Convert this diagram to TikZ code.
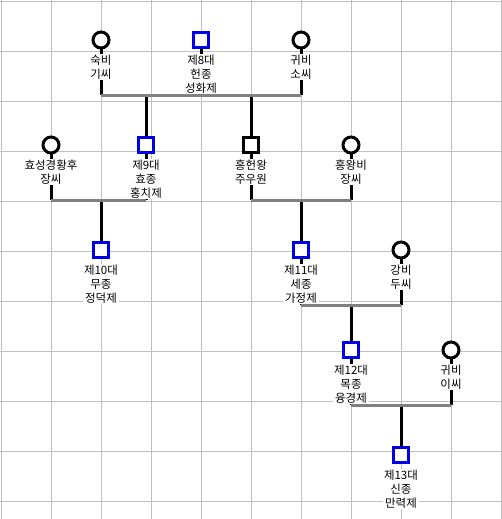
\documentclass[tikz,border=0pt]{standalone}
\usepackage{fontspec}
\newfontfamily\kr{Noto Sans CJK KR}
\definecolor{gridgray}{RGB}{192,192,192}
\definecolor{marrgray}{RGB}{128,128,128}
\definecolor{kingblue}{RGB}{0,0,230}
\tikzset{
  gridline/.style={draw=gridgray, line width=0.75pt},
  female/.style={circle, draw=black, fill=white, line width=2.25pt, minimum size=12pt, inner sep=0pt},
  king/.style={rectangle, draw=kingblue, fill=white, line width=2.25pt, minimum size=11.25pt, inner sep=0pt},
  male/.style={rectangle, draw=black, fill=white, line width=2.25pt, minimum size=11.25pt, inner sep=0pt},
  lbl/.style={anchor=north, fill=white, inner sep=0.5pt, align=center, font=\kr\fontsize{8.6pt}{10.6pt}\selectfont},
  pline/.style={draw=black, line width=2.25pt},
  mline/.style={draw=marrgray, line width=2.25pt},
}
\begin{document}
\begin{tikzpicture}[x=0.75pt, y=-0.75pt]
\useasboundingbox (0,0) rectangle (502,519);
% grid
\foreach \k in {0,...,10} {
  \draw[gridline] (1+50*\k,0) -- (1+50*\k,519);
  \draw[gridline] (0,1+50*\k) -- (502,1+50*\k);
}
% person positions
\path
  (101,40) coordinate (sukbi)
  (201,40) coordinate (heonjong)
  (301,40) coordinate (gwibiso)
  (51,145) coordinate (hyoseong)
  (146,145) coordinate (hyojong)
  (251,145) coordinate (heungheon)
  (351,145) coordinate (heungwangbi)
  (101,250) coordinate (mujong)
  (301,250) coordinate (sejong)
  (401,250) coordinate (gangbi)
  (351,350) coordinate (mokjong)
  (451,350) coordinate (gwibii)
  (401,455) coordinate (sinjong);
% marriage line levels
\coordinate (m1) at (0,95);
\coordinate (m2) at (0,200);
\coordinate (m3) at (0,305);
\coordinate (m4) at (0,405);
% parent lines
\draw[pline] (sukbi) -- (sukbi |- m1);
\draw[pline] (heonjong) -- (heonjong |- m1);
\draw[pline] (gwibiso) -- (gwibiso |- m1);
\draw[pline] (hyoseong) -- (hyoseong |- m2);
\draw[pline] (hyojong) -- (hyojong |- m2);
\draw[pline] (heungheon) -- (heungheon |- m2);
\draw[pline] (heungwangbi) -- (heungwangbi |- m2);
\draw[pline] (sejong) -- (sejong |- m3);
\draw[pline] (gangbi) -- (gangbi |- m3);
\draw[pline] (mokjong) -- (mokjong |- m4);
\draw[pline] (gwibii) -- (gwibii |- m4);
% child lines
\draw[pline] (hyojong |- m1) -- (hyojong);
\draw[pline] (heungheon |- m1) -- (heungheon);
\draw[pline] (mujong |- m2) -- (mujong);
\draw[pline] (sejong |- m2) -- (sejong);
\draw[pline] (mokjong |- m3) -- (mokjong);
\draw[pline] (sinjong |- m4) -- (sinjong);
% marriage lines
\draw[mline] (sukbi |- m1) -- (gwibiso |- m1);
\draw[mline] (hyoseong |- m2) -- (hyojong |- m2);
\draw[mline] (heungheon |- m2) -- (heungwangbi |- m2);
\draw[mline] (sejong |- m3) -- (gangbi |- m3);
\draw[mline] (mokjong |- m4) -- (gwibii |- m4);
% labels
\node[lbl] (l-sukbi) at ([yshift=-10.5pt]sukbi) {숙비\\기씨};
\node[lbl] (l-heonjong) at ([yshift=-10.5pt]heonjong) {제8대\\헌종\\성화제};
\node[lbl] (l-gwibiso) at ([yshift=-10.5pt]gwibiso) {귀비\\소씨};
\node[lbl] (l-hyoseong) at ([yshift=-10.5pt]hyoseong) {효성경황후\\장씨};
\node[lbl] (l-hyojong) at ([yshift=-10.5pt]hyojong) {제9대\\효종\\홍치제};
\node[lbl] (l-heungheon) at ([yshift=-10.5pt]heungheon) {흥헌왕\\주우원};
\node[lbl] (l-heungwangbi) at ([yshift=-10.5pt]heungwangbi) {흥왕비\\장씨};
\node[lbl] (l-mujong) at ([yshift=-10.5pt]mujong) {제10대\\무종\\정덕제};
\node[lbl] (l-sejong) at ([yshift=-10.5pt]sejong) {제11대\\세종\\가정제};
\node[lbl] (l-gangbi) at ([yshift=-10.5pt]gangbi) {강비\\두씨};
\node[lbl] (l-mokjong) at ([yshift=-10.5pt]mokjong) {제12대\\목종\\융경제};
\node[lbl] (l-gwibii) at ([yshift=-10.5pt]gwibii) {귀비\\이씨};
\node[lbl] (l-sinjong) at ([yshift=-10.5pt]sinjong) {제13대\\신종\\만력제};
% symbols
\node[female] (s-sukbi) at (sukbi) {};
\node[king] (s-heonjong) at (heonjong) {};
\node[female] (s-gwibiso) at (gwibiso) {};
\node[female] (s-hyoseong) at (hyoseong) {};
\node[king] (s-hyojong) at (hyojong) {};
\node[male] (s-heungheon) at (heungheon) {};
\node[female] (s-heungwangbi) at (heungwangbi) {};
\node[king] (s-mujong) at (mujong) {};
\node[king] (s-sejong) at (sejong) {};
\node[female] (s-gangbi) at (gangbi) {};
\node[king] (s-mokjong) at (mokjong) {};
\node[female] (s-gwibii) at (gwibii) {};
\node[king] (s-sinjong) at (sinjong) {};
\end{tikzpicture}
\end{document}
